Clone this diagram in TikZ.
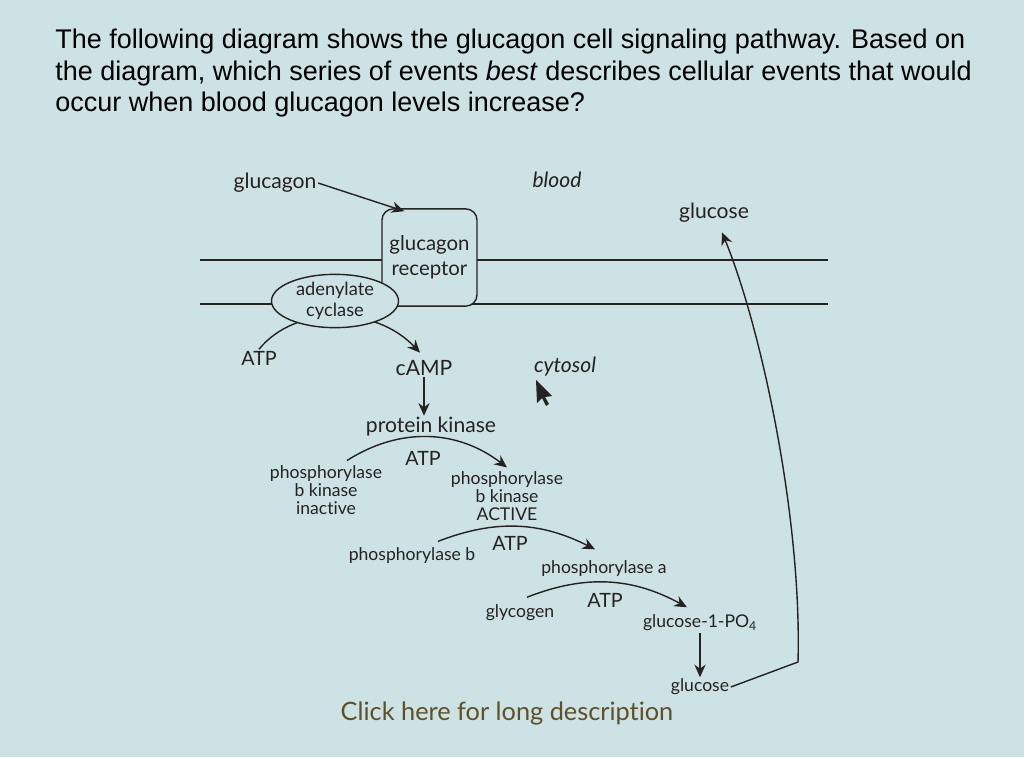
\documentclass[tikz,border=0pt]{standalone}
\usepackage{fontspec}
\setmainfont{Lato}[Ligatures=NoCommon]
\newfontfamily\headfont{Liberation Sans}
\usetikzlibrary{arrows.meta,calc,positioning,shapes.geometric}
\definecolor{screenbg}{RGB}{204,226,229}
\definecolor{inkgray}{RGB}{38,34,32}
\definecolor{linkbrown}{RGB}{96,80,38}

\begin{document}
\begin{tikzpicture}[x=0.025cm,y=-0.025cm,>={Stealth[length=9pt,width=8pt]},
	lbl/.style={text=inkgray,font=\fontsize{15}{17}\selectfont,inner sep=1pt},
	atplbl/.style={text=inkgray,font=\fontsize{14}{16}\selectfont,inner sep=1pt},
	small/.style={text=inkgray,font=\fontsize{12.5}{13}\selectfont,inner sep=1pt,align=center},
	conn/.style={->,draw=inkgray,line width=1pt},
	membrane/.style={draw=inkgray,line width=1.4pt}]
		\fill[screenbg] (0,0) rectangle (1024,757);
		\useasboundingbox (0,0) rectangle (1024,757);
		% question
		\node[anchor=north west,align=left,inner sep=0pt,text=black,
		font=\headfont\fontsize{19.2}{22.4}\selectfont] (question) at (55,29)
		{The following diagram shows the glucagon cell signaling pathway. Based on\\
		the diagram, which series of events \textit{best} describes cellular events that would\\
		occur when blood glucagon levels increase?};
		% membrane
		\draw[membrane] (200,260) -- (828,260);
		\draw[membrane] (200,304) -- (828,304);
		\node[draw=inkgray,line width=1pt,fill=screenbg,rounded corners=8pt,minimum width=2.375cm,minimum height=2.43cm,
		align=center,text=inkgray,font=\fontsize{14.5}{18}\selectfont] (receptor) at (429.5,257.5) {glucagon\\receptor};
		% ATP -> cAMP (behind the enzyme)
		\node[atplbl] (atp1) at (259,358) {ATP};
		\node[lbl] (camp) at (424,368) {cAMP};
		\draw[conn] (atp1.north) .. controls (295,305) and (375,305) .. ($(camp.north)+(-4,-6)$);
		\node[ellipse,draw=inkgray,line width=1pt,fill=screenbg,inner sep=0pt,minimum width=3.175cm,minimum height=1.175cm,
		align=center,text=inkgray,font=\fontsize{13}{15}\selectfont] (adcyc) at (335,301) {adenylate\\cyclase};
		% blood side
		\node[lbl] (glucagon) at (275,183) {glucagon};
		\node[lbl,font=\itshape\fontsize{15}{17}\selectfont] (blood) at (557,180) {blood};
		\node[lbl] (glcout) at (714,213) {glucose};
		\draw[conn] (glucagon.east) -- ($(receptor.north west)+(23,3)$);
		% cytosol side
		\node[lbl,font=\itshape\fontsize{15}{17}\selectfont] (cytosol) at (565,367) {cytosol};
		\node[lbl] (pkin) at (431,427) {protein kinase};
		\draw[conn] (camp.south) -- (camp.south |- pkin.north);
		\node[small] (inact) at (326,490) {phosphorylase\\b kinase\\inactive};
		\node[small] (act) at (507,496) {phosphorylase\\b kinase\\ACTIVE};
		\node[atplbl] (atp2) at (423,458) {ATP};
		\draw[conn] ($(inact.north)+(21,-3)$) to[bend left=35] ($(act.north)+(0,-2)$);
		\node[small] (phosb) at (412,556) {phosphorylase b};
		\node[small] (phosa) at (604,569) {phosphorylase a};
		\node[atplbl] (atp3) at (510,543) {ATP};
		\draw[conn] ($(phosb.north)+(26,-5)$) to[bend left=24] ($(phosa.north)+(-9,-10)$);
		\node[small] (glycogen) at (520,613) {glycogen};
		\node[small] (g1p) at (700,623) {glucose-1-PO\textsubscript{4}};
		\node[atplbl] (atp4) at (605,600) {ATP};
		\draw[conn] ($(glycogen.north)+(7,-6)$) to[bend left=25] ($(g1p.north)+(-13,-6)$);
		\node[small] (glcin) at (700,687) {glucose};
		\draw[conn] (g1p.south) -- (g1p.south |- glcin.north);
		\coordinate (kink) at (798,662);
		\draw[conn] (glcin.east) -- (kink) .. controls (802,520) and (762,330) .. ($(glcout.south)+(8,8)$);
		% pointer
		\fill[inkgray] (536,380) -- (537,403) -- (542,398) -- (546,406) -- (549,404) -- (545,397) -- (552,396) -- cycle;
		\node[text=linkbrown,font=\fontsize{18}{21}\selectfont] (longdesc) at (507,713) {Click here for long description};
\end{tikzpicture}
\end{document}
